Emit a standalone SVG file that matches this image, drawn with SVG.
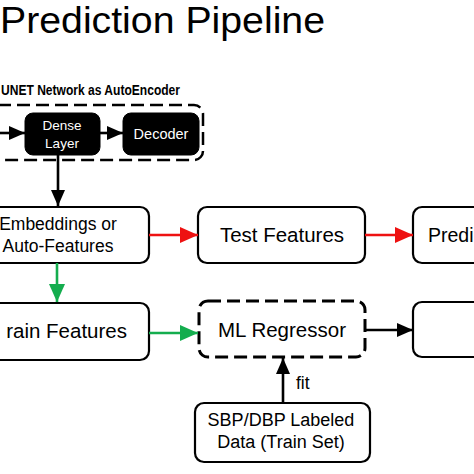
<svg xmlns="http://www.w3.org/2000/svg" width="474" height="474" viewBox="0 0 474 474">
<style>
text{font-family:"Liberation Sans",Arial,sans-serif;fill:#000}
.box{fill:#fff;stroke:#000;stroke-width:2.2}
.dash{fill:#fff;stroke:#000;stroke-width:3;stroke-dasharray:13 6}
.blk{fill:#000;stroke:#000;stroke-width:1}
.wt{fill:#fff;font-size:13.5px}
.c{text-anchor:middle}
.ln{fill:none;stroke-width:2.6}
</style>
<defs>
<marker id="hk" markerUnits="userSpaceOnUse" markerWidth="16" markerHeight="14" refX="16" refY="7" orient="auto"><path d="M0,0 L16,7 L0,14 z" fill="#000"/></marker>
<marker id="hr" markerUnits="userSpaceOnUse" markerWidth="18" markerHeight="16" refX="18" refY="8" orient="auto"><path d="M0,0 L18,8 L0,16 z" fill="#EE1111"/></marker>
<marker id="hg" markerUnits="userSpaceOnUse" markerWidth="18" markerHeight="16" refX="18" refY="8" orient="auto"><path d="M0,0 L18,8 L0,16 z" fill="#14AD4E"/></marker>
</defs>
<rect width="474" height="474" fill="#fff"/>
<text x="0" y="33" font-size="37" textLength="325" lengthAdjust="spacingAndGlyphs">Prediction Pipeline</text>
<g id="autoencoder">
<text x="1" y="95" font-size="14" font-weight="bold" textLength="179" lengthAdjust="spacingAndGlyphs">UNET Network as AutoEncoder</text>
<rect class="dash" x="-30" y="105" width="233" height="55" rx="9" style="stroke-width:2.5"/>
</g>
<g id="dense">
<rect class="blk" x="25" y="113" width="75" height="42" rx="8"/>
<text class="wt c" x="62" y="130">Dense</text>
<text class="wt c" x="62" y="148">Layer</text>
</g>
<g id="decoder">
<rect class="blk" x="123" y="113" width="76" height="42" rx="8"/>
<text class="wt c" x="161" y="139" style="font-size:14.5px">Decoder</text>
</g>
<g id="embeddings">
<rect class="box" x="-34" y="207" width="183" height="56" rx="9"/>
<text class="c" x="58" y="230" font-size="17.5">Embeddings or</text>
<text class="c" x="58" y="252" font-size="17.5">Auto-Features</text>
</g>
<g id="test">
<rect class="box" x="198" y="207" width="167" height="56" rx="9"/>
<text class="c" x="282" y="242" font-size="20.5">Test Features</text>
</g>
<g id="pred">
<rect class="box" x="413" y="207" width="90" height="56" rx="9"/>
<text x="428" y="242" font-size="19.5">Predi</text>
</g>
<g id="train">
<rect class="box" x="-34" y="303" width="183" height="57" rx="9"/>
<text x="127" y="338" font-size="20.5" text-anchor="end">rain Features</text>
</g>
<g id="regressor">
<rect class="dash" x="199" y="301" width="166" height="56" rx="9"/>
<text class="c" x="282" y="337" font-size="20.5">ML Regressor</text>
</g>
<g id="output">
<rect class="box" x="413" y="302" width="90" height="55" rx="9"/>
</g>
<g id="labels">
<rect class="box" x="195" y="403" width="175" height="59" rx="9"/>
<text class="c" x="281" y="426" font-size="18">SBP/DBP Labeled</text>
<text class="c" x="281" y="448" font-size="18">Data (Train Set)</text>
</g>
<g id="connectors">
<line class="ln" x1="-5" y1="133" x2="25" y2="133" stroke="#000" marker-end="url(#hk)"/>
<line class="ln" x1="100" y1="133" x2="123" y2="133" stroke="#000" marker-end="url(#hk)"/>
<line class="ln" x1="58" y1="155" x2="58" y2="206" stroke="#000" marker-end="url(#hk)"/>
<line class="ln" x1="149" y1="235" x2="198" y2="235" stroke="#EE1111" marker-end="url(#hr)"/>
<line class="ln" x1="365" y1="235" x2="413" y2="235" stroke="#EE1111" marker-end="url(#hr)"/>
<line class="ln" x1="57" y1="263" x2="57" y2="302" stroke="#14AD4E" marker-end="url(#hg)"/>
<line class="ln" x1="149" y1="333" x2="198" y2="333" stroke="#14AD4E" marker-end="url(#hg)"/>
<line class="ln" x1="366" y1="330" x2="413" y2="330" stroke="#000" marker-end="url(#hk)"/>
<line class="ln" x1="283" y1="403" x2="283" y2="358" stroke="#000" marker-end="url(#hk)"/>
<text x="296" y="389" font-size="17.5">fit</text>
</g>
</svg>
